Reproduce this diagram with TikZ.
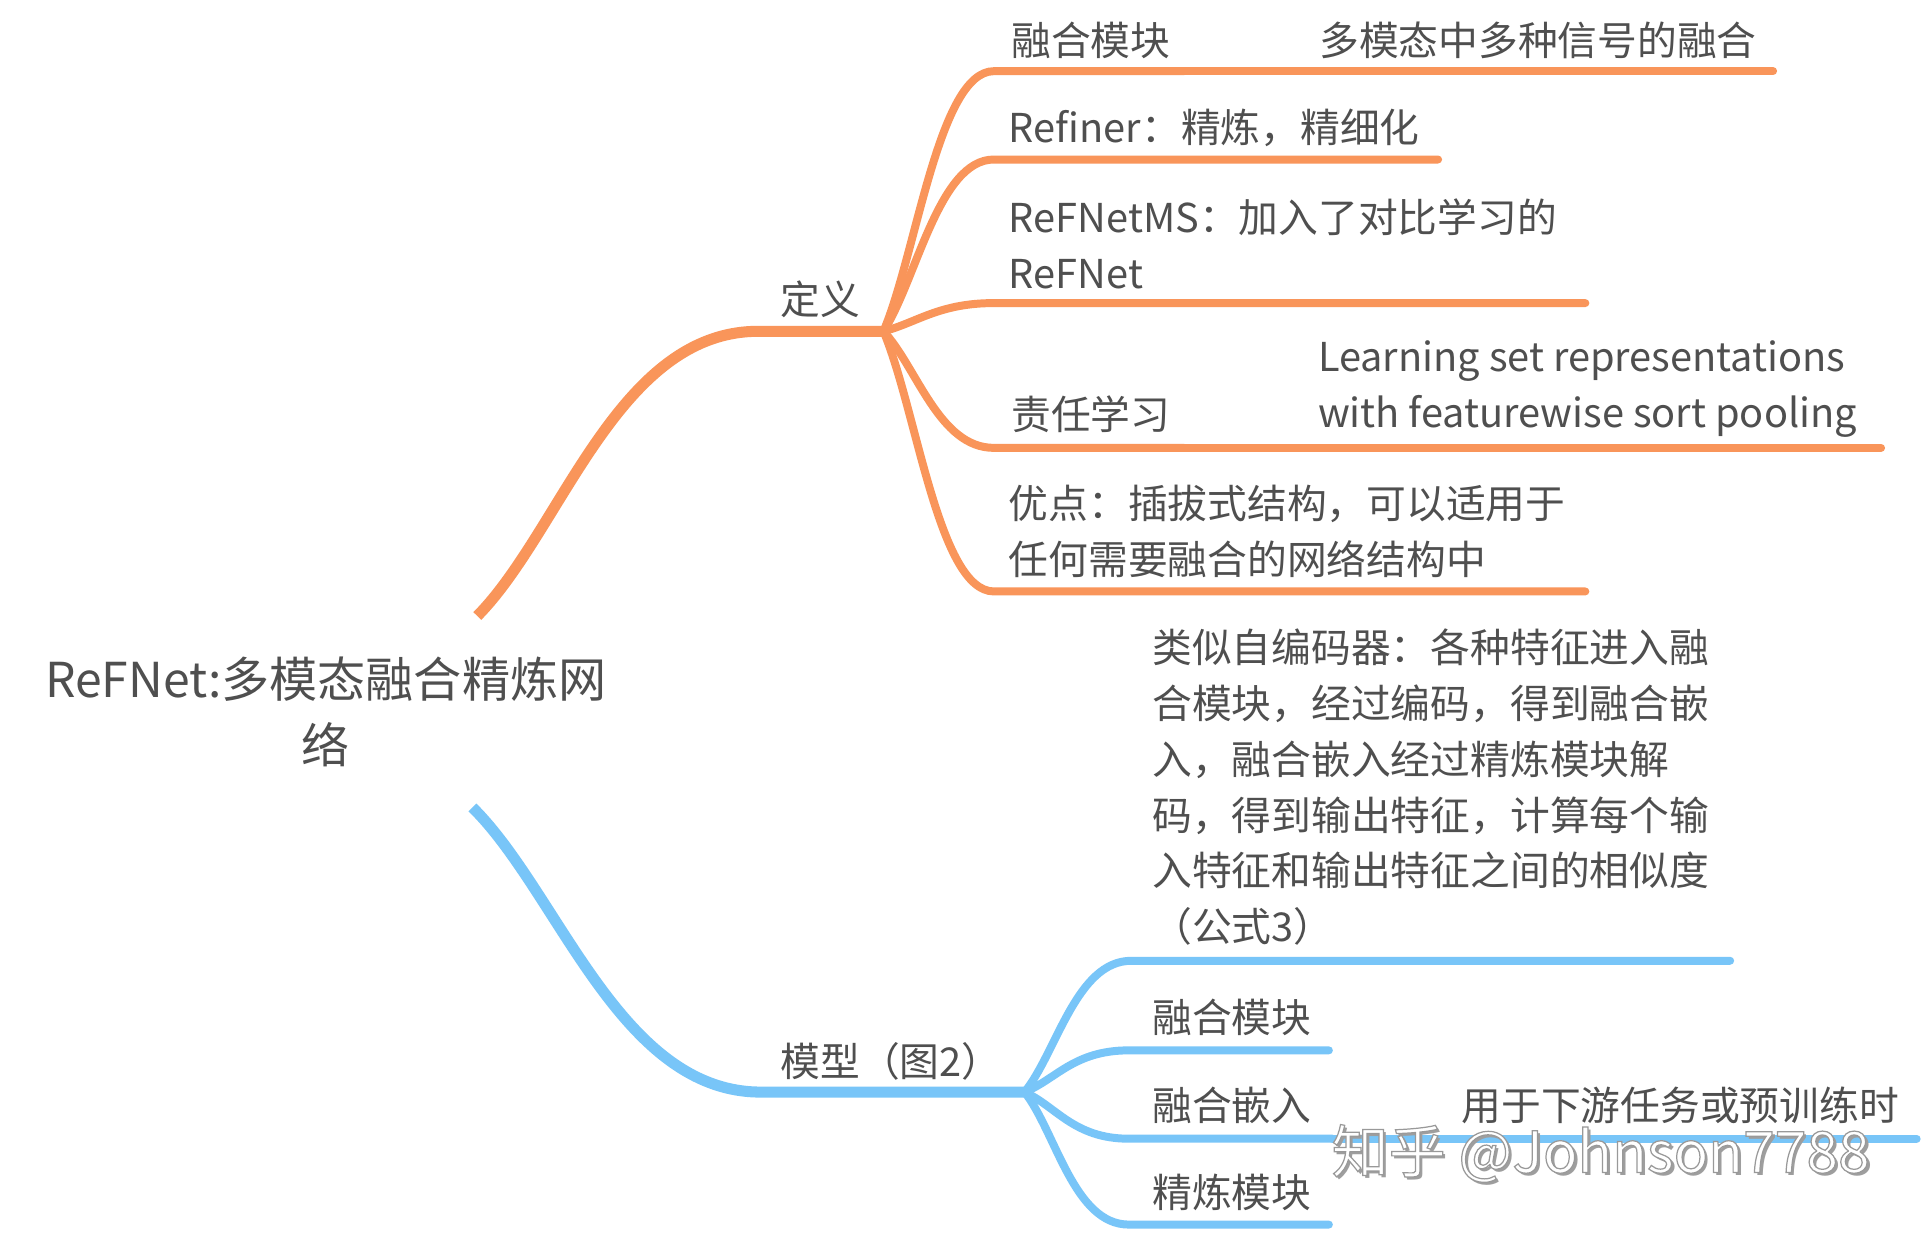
\documentclass[tikz,border=0pt]{standalone}
\usepackage{fontspec}
\setmainfont{Noto Sans CJK SC}
\usepackage{tikz}
\usetikzlibrary{calc}
\definecolor{morange}{HTML}{F9955A}
\definecolor{mblue}{HTML}{78C5F8}
\definecolor{mtext}{HTML}{4F4F4F}

\begin{document}
\begin{tikzpicture}[x=1pt,y=-1pt,
  root/.style={text=mtext,inner sep=0pt,align=center,font=\fontsize{39.2}{54}\selectfont},
  topic/.style={text=mtext,inner sep=0pt,anchor=west,align=left,font=\fontsize{32.4}{45.5}\selectfont},
  wmark/.style={inner sep=0pt,anchor=west,font=\fontsize{46.5}{46.5}\selectfont},
  omain/.style={draw=morange,line width=9pt},
  osub/.style={draw=morange,line width=6.5pt,line cap=round},
  bmain/.style={draw=mblue,line width=9pt},
  bsub/.style={draw=mblue,line width=6.5pt,line cap=round}]

\fill[white] (0,0) rectangle (1568,1006);
\useasboundingbox (0,0) rectangle (1568,1006);

% ================= central topic =================
\node[root] (root) at (265.5,580) {ReFNet:多模态融合精炼网\\络};
\coordinate (rootN) at (389,502);
\coordinate (rootS) at (385,658);

% ================= orange branch: definition =================
\coordinate (defS) at (618,270);
\coordinate (defJ) at (720,270);
\coordinate (o1s) at (810,58);   \coordinate (o1e) at (965,58);  \coordinate (o1ae) at (1445,58);
\coordinate (o2s) at (810,130);  \coordinate (o2e) at (1172,130);
\coordinate (o3s) at (810,247);  \coordinate (o3e) at (1292,247);
\coordinate (o4s) at (810,365);  \coordinate (o4e) at (965,365); \coordinate (o4ae) at (1533,365);
\coordinate (o5s) at (810,482);  \coordinate (o5e) at (1292,482);

\draw[omain] (rootN) .. controls ($(rootN)!0.3!(defS)$) and ($(defS)+(-115,0)$) .. (defS) -- (defJ);
\foreach \s/\e in {o1s/o1e,o2s/o2e,o3s/o3e,o4s/o4e,o5s/o5e}
  \draw[osub] (defJ) .. controls ($(defJ)!0.3!(\s)$) and ($(\s)+(-45,0)$) .. (\s) -- (\e);
\draw[osub] (o1e) -- (o1ae);
\draw[osub] (o4e) -- (o4ae);

\node[topic] (def) at (636,244) {定义};
\node[topic] (o1) at (824,33) {融合模块};
\node[topic] (o1a) at (1075,33) {多模态中多种信号的融合};
\node[topic] (o2) at (822,104) {Refiner：精炼，精细化};
\node[topic] (o3) at (822,198.5) {ReFNetMS：加入了对比学习的\\ReFNet};
\node[topic] (o4) at (824,338) {责任学习};
\node[topic] (o4a) at (1074,317) {Learning set representations\\with featurewise sort pooling};
\node[topic] (o5) at (822,433) {优点：插拔式结构，可以适用于\\任何需要融合的网络结构中};

% ================= blue branch: model =================
\coordinate (modS) at (620,890);
\coordinate (modJ) at (835,890);
\coordinate (b1s) at (922,783);  \coordinate (b1e) at (1410,783);
\coordinate (b2s) at (920,856);  \coordinate (b2e) at (1083,856);
\coordinate (b3s) at (920,928);  \coordinate (b3e) at (1086,928); \coordinate (b3ae) at (1562,928);
\coordinate (b4s) at (920,998);  \coordinate (b4e) at (1083,998);

\draw[bmain] (rootS) .. controls ($(rootS)!0.3!(modS)$) and ($(modS)+(-115,0)$) .. (modS) -- (modJ);
\foreach \s/\e in {b1s/b1e,b2s/b2e,b3s/b3e,b4s/b4e}
  \draw[bsub] (modJ) .. controls ($(modJ)!0.3!(\s)$) and ($(\s)+(-45,0)$) .. (\s) -- (\e);
\draw[bsub] (b3e) -- (b3ae);

\node[topic] (mod) at (636,865) {模型（图2）};
\node[topic] (b1) at (939,641.5) {类似自编码器：各种特征进入融\\合模块，经过编码，得到融合嵌\\入，融合嵌入经过精炼模块解\\码，得到输出特征，计算每个输\\入特征和输出特征之间的相似度\\（公式3）};
\node[topic] (b2) at (939,829) {融合模块};
\node[topic] (b3) at (939,901) {融合嵌入};
\node[topic] (b3a) at (1191,901) {用于下游任务或预训练时};
\node[topic] (b4) at (939,972) {精炼模块};

% watermark: grey shadow, then white letters with a grey outline
\coordinate (wmpos) at (1085,940);
\node[wmark,text=black!38] (wmsh) at ($(wmpos)+(2.5,2.5)$) {知乎 @Johnson7788};
\node[wmark,text=white] (wm) at (wmpos) {\special{pdf:code 2 Tr 1 w 0.6 G}知乎 @Johnson7788\special{pdf:code 0 Tr}};
\end{tikzpicture}
\end{document}
